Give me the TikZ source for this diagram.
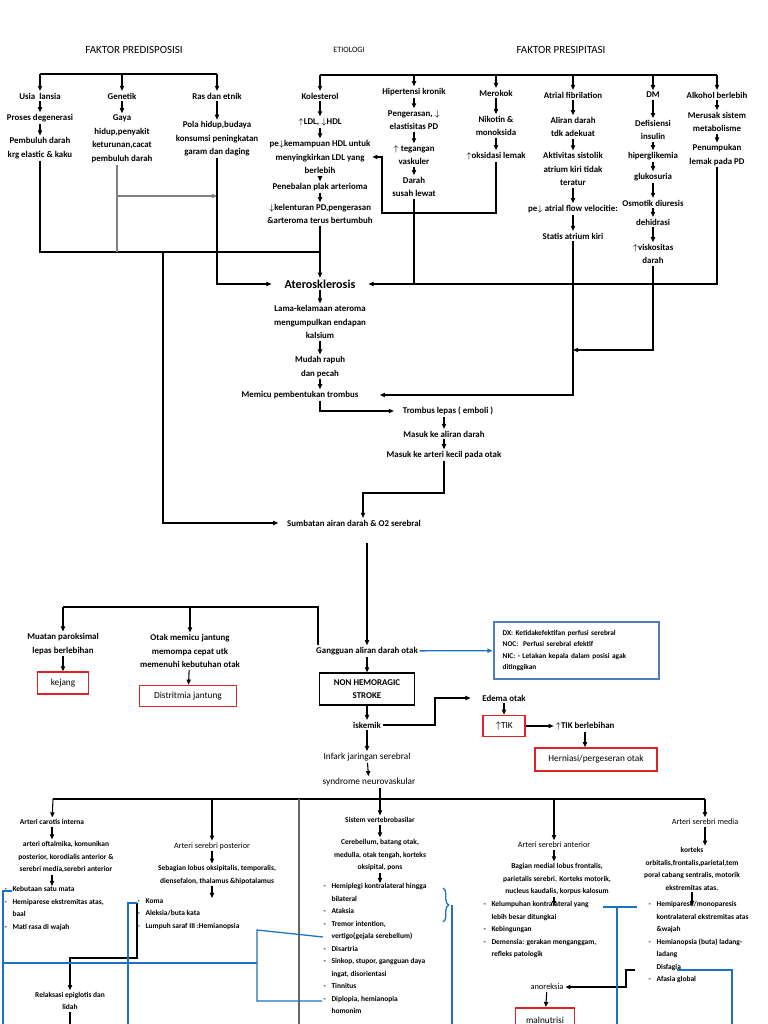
\documentclass[tikz,border=0pt]{standalone}
\usepackage{fontspec}
\setmainfont{Carlito}
\usepackage{xcolor}
\usepackage{tikz}
\usetikzlibrary{arrows.meta, positioning, calc, decorations.pathreplacing}
\definecolor{boxred}{RGB}{222, 34, 40}
\definecolor{lineblue}{RGB}{30, 112, 192}
\definecolor{boxblue}{RGB}{79, 126, 186}
\newcommand{\upar}{$\uparrow$}
\newcommand{\dnar}{$\downarrow$}
\newcommand{\lidash}{\makebox[5.7pt][l]{-}}
\newcommand{\liskip}{\hspace*{5.7pt}}

\begin{document}
\begin{tikzpicture}[x=0.025cm, y=-0.025cm, line width=0.75pt,
  every node/.style={align=center, inner sep=1pt, font=\fontsize{6.3}{9.6}\selectfont\bfseries},
  head/.style={font=\fontsize{7.8}{9}\selectfont},
  lite/.style={font=\fontsize{6.6}{9}\selectfont},
  art/.style={font=\fontsize{5.8}{8}\selectfont},
  sm/.style={font=\fontsize{5.3}{8.9}\selectfont\bfseries},
  lst/.style={sm, anchor=north west, align=left, inner sep=0pt},
  redbox/.style={draw=boxred, line width=1.1pt, font=\fontsize{6.6}{8}\selectfont},
  arr/.style={-{Triangle[length=3.6pt, width=3pt]}},
  link/.style={draw=lineblue, line width=0.9pt}]
  \useasboundingbox (0,0) rectangle (768,1024);

  \node[head] (predis) at (134,50) {FAKTOR PREDISPOSISI};
  \node[head, font=\fontsize{5.8}{7}\selectfont] (etio) at (349,50) {ETIOLOGI};
  \node[head] (presip) at (561,50) {FAKTOR PRESIPITASI};

  \node (usia) at (40,96) {Usia\ \ lansia};
  \node (proses) at (40,118) {Proses degenerasi};
  \node (pemb) at (40,148) {Pembuluh darah\\krg elastic \& kaku};
  \node (genetik) at (122,96) {Genetik};
  \node (gaya) at (122,139) {Gaya\\hidup,penyakit\\keturunan,cacat\\pembuluh darah};
  \node (ras) at (217,96) {Ras dan etnik};
  \node (pola) at (217,139) {Pola hidup,budaya\\konsumsi peningkatan\\garam dan daging};

  \node (kol) at (320,96) {Kolesterol};
  \node (ldl) at (320,122) {\upar LDL, \dnar HDL};
  \node (hdl) at (320,157) {pe\dnar kemampuan HDL untuk\\menyingkirkan LDL yang\\berlebih};
  \node (plak) at (320,187) {Penebalan plak arterioma};
  \node (kelen) at (320,214) {\dnar kelenturan PD,pengerasan\\\&arteroma terus bertumbuh};
  \node (hip) at (414,92) {Hipertensi kronik};
  \node (peng) at (414,120) {Pengerasan, \dnar\\elastisitas PD};
  \node (teg) at (414,155) {\upar\ tegangan\\vaskuler};
  \node (susah) at (414,187) {Darah\\susah lewat};
  \node (rokok) at (496,93) {Merokok};
  \node (niko) at (496,126) {Nikotin \&\\monoksida};
  \node (oksi) at (496,156) {\upar oksidasi lemak};
  \node (af) at (573,95) {Atrial fibrilation};
  \node (aliran) at (573,127) {Aliran darah\\tdk adekuat};
  \node (aktiv) at (573,169) {Aktivitas sistolik\\atrium kiri tidak\\teratur};
  \node (velo) at (573,209) {pe\dnar\ atrial flow velocitie:};
  \node (statis) at (573,236) {Statis atrium kiri};
  \node (dm) at (653,95) {DM};
  \node (defis) at (653,130) {Defisiensi\\insulin};
  \node (hiper) at (653,156) {hiperglikemia};
  \node (gluko) at (653,177) {glukosuria};
  \node (osmo) at (653,203) {Osmotik diuresis};
  \node (dehid) at (653,222) {dehidrasi};
  \node (visko) at (653,254) {\upar viskositas\\darah};
  \node (alko) at (717,95) {Alkohol berlebih};
  \node (rusak) at (717,122) {Merusak sistem\\metabolisme};
  \node (tumpuk) at (717,155) {Penumpukan\\lemak pada PD};

  \coordinate (predL) at (40,74); \coordinate (predR) at (217,74);
  \coordinate (presL) at (320,75); \coordinate (presR) at (717,75);
  \draw (predL) -- (predR);
  \draw (presL) -- (presR);
  \foreach \n in {usia,genetik,ras} \draw[arr] (predL -| \n) -- (\n);
  \foreach \n in {kol,hip,rokok,af,dm,alko} \draw[arr] (presL -| \n) -- (\n);
  \foreach \a/\b in {usia/proses, proses/pemb, genetik/gaya, ras/pola, kol/ldl, ldl/hdl, hdl/plak, plak/kelen,
    hip/peng, peng/teg, teg/susah, rokok/niko, niko/oksi, af/aliran, aliran/aktiv, aktiv/velo, velo/statis,
    dm/defis, defis/hiper, hiper/gluko, gluko/osmo, osmo/dehid, dehid/visko, alko/rusak, rusak/tumpuk}
    \draw[arr] (\a) -- (\b);

  \node[font=\fontsize{8.6}{10}\selectfont\bfseries, inner xsep=9pt] (ater) at (320,284) {Aterosklerosis};
  \node (lama) at (320,322) {Lama-kelamaan ateroma\\mengumpulkan endapan\\kalsium};
  \node (mudah) at (320,367) {Mudah rapuh\\dan pecah};
  \node[inner xsep=15pt] (memicu) at (300,395) {Memicu pembentukan trombus};
  \node[inner xsep=6pt] (trom) at (448,411) {Trombus lepas ( emboli )};
  \node (masuk1) at (444,434) {Masuk ke aliran darah};
  \node (masuk2) at (444,455) {Masuk ke arteri kecil pada otak};
  \node[inner xsep=6pt] (sumb) at (354,523) {Sumbatan airan darah \& O2 serebral};

  \coordinate (hub) at (320,252);
  \coordinate (leftv) at (163,252);
  \coordinate (genx) at (117,196);
  \coordinate (rokj) at (382,213);
  \coordinate (fj) at (573,350);
  \coordinate (sj) at (363,493);
  \draw (pemb) |- (hub);
  \draw (kelen) -- (hub);
  \draw[arr] (hub) -- (ater);
  \draw[gray] (gaya.south -| genx) -- (genx |- hub);
  \draw[arr, gray] (genx) -- (genx -| pola);
  \draw[arr] (pola) |- (ater);
  \draw[arr] (tumpuk) |- (ater);
  \draw (susah) -- (susah |- ater);
  \draw[arr] (oksi) |- (rokj) |- (hdl.east);
  \draw[arr] (statis) |- (memicu);
  \draw[arr] (visko) |- (fj);
  \draw[arr] (leftv) |- (sumb);
  \draw[arr] (ater) -- (lama);
  \draw[arr] (lama) -- (mudah);
  \draw[arr] (mudah) -- (mudah |- memicu.north);
  \draw[arr] (memicu.south -| mudah) |- (trom);
  \draw[arr] (trom.south -| masuk1) -- (masuk1);
  \draw[arr] (masuk1) -- (masuk2);
  \draw[arr] (masuk2) |- (sj) -- (sj |- sumb.north);

  \node (gang) at (367,651) {Gangguan aliran darah otak};
  \node (muatan) at (63,644) {Muatan paroksimal\\lepas berlebihan};
  \node[redbox, minimum width=36pt, minimum height=15.5pt] (kejang) at (63,683) {kejang};
  \node (otak) at (190,651) {Otak memicu jantung\\memompa cepat utk\\memenuhi kebutuhan otak};
  \node[redbox, minimum width=69pt, minimum height=15pt] (distr) at (188,696) {Distritmia jantung};
  \node[draw=boxblue, line width=1.4pt, minimum width=118pt, minimum height=40.5pt, inner xsep=6pt,
    text width=105pt, align=left, font=\fontsize{5.2}{8}\selectfont\bfseries] (dx) at (576.5,650.5)
    {DX: Ketidakefektifan perfusi serebral\\NOC:\ \ Perfusi serebral efektif\\NIC: - Letakan kepala dalam posisi agak\\ditinggikan};
  \node[draw, line width=0.8pt, minimum width=67.5pt, minimum height=22.8pt] (nhs) at (367,689) {NON HEMORAGIC\\STROKE};
  \node (isk) at (367,725) {iskemik};
  \node[inner xsep=8pt] (edema) at (504,698) {Edema otak};
  \node[redbox, minimum width=30pt, minimum height=15pt] (tik) at (504,726) {\upar TIK};
  \node (tikb) at (585,726) {\upar TIK berlebihan};
  \node[redbox, minimum width=87pt, minimum height=16.4pt] (hern) at (596,759.5) {Herniasi/pergeseran otak};
  \node[lite] (infark) at (367,757) {Infark jaringan serebral};
  \node[lite] (synd) at (369,782) {syndrome neurovaskular};

  \coordinate (gbL) at (63,607); \coordinate (gbR) at (318,607);
  \coordinate (ie) at (435,698);
  \draw[arr] ($(sumb.south -| gang)+(0,15)$) -- (gang);
  \draw (gang.north -| gbR) -- (gbR) -- (gbL);
  \draw[arr] (gbL) -- (muatan);
  \draw[arr] (gbL -| otak) -- (otak);
  \draw[arr] (muatan) -- (kejang);
  \draw[arr] (otak) -- (distr);
  \draw[arr, draw=lineblue, line width=0.9pt] (gang) -- (dx);
  \draw[arr] (gang) -- (nhs);
  \draw[arr] (nhs) -- (isk);
  \draw[arr] (isk) -| (ie) -- (edema);
  \draw[arr] (edema) -- (tik);
  \draw[arr] (tik) -- (tikb);
  \draw[arr] (tikb) -- (tikb |- hern.north);
  \draw[arr] (isk) -- (infark);
  \draw[arr] (infark) -- (synd);

  \node[sm] (car) at (52,822) {Arteri carotis interna};
  \node[sm] (oft) at (66,857) {arteri oftalmika, komunikan\\posterior, korodialis anterior \&\\serebri media,serebri anterior};
  \node[lst] (carl) at (4,886) {\lidash Kebutaan satu mata\\\lidash Hemiparese ekstremitas atas,\\\liskip baal\\\lidash Mati rasa di wajah};
  \node[art] (post) at (212,846) {Arteri serebri posterior};
  \node[sm] (postd) at (217,875) {Sebagian lobus oksipitalis, temporalis,\\diensefalon, thalamus \&hipotalamus};
  \node[lst] (postl) at (137,898) {\lidash Koma\\\lidash Aleksia/buta kata\\\lidash Lumpuh saraf III :Hemianopsia};
  \node[sm] (relak) at (70,1001) {Relaksasi epiglotis dan\\lidah};
  \node[sm] (vert) at (380,820) {Sistem vertebrobasilar};
  \node[sm] (vertd) at (380,855) {Cerebellum, batang otak,\\medulla, otak tengah, korteks\\oksipital, pons};
  \node[lst] (vertl) at (323,883) {\lidash Hemiplegi kontralateral hingga\\\liskip bilateral\\\lidash Ataksia\\\lidash Tremor intention,\\\liskip vertigo(gejala serebellum)\\\lidash Disartria\\\lidash Sinkop, stupor, gangguan daya\\\liskip ingat, disorientasi\\\lidash Tinnitus\\\lidash Diplopia, hemianopia\\\liskip homonim};
  \node[art] (ant) at (554,845) {Arteri serebri anterior};
  \node[sm] (antd) at (557,879) {Bagian medial lobus frontalis,\\parietalis serebri. Korteks motorik,\\nucleus kaudalis, korpus kalosum};
  \node[lst] (antl) at (483,901) {\lidash Kelumpuhan kontralateral yang\\\liskip lebih besar ditungkai\\\lidash Kebingungan\\\lidash Demensia: gerakan menganggam,\\\liskip refleks patologik};
  \node[art] (media) at (705,822) {Arteri serebri media};
  \node[sm] (medd) at (692,869) {korteks\\orbitalis,frontalis,parietal,tem\\poral cabang sentralis, motorik\\ekstremitas atas.};
  \node[lst] (medl) at (648,901) {\lidash Hemiparese/monoparesis\\\liskip kontralateral ekstremitas atas\\\liskip \&wajah\\\lidash Hemianopsia (buta) ladang-\\\liskip ladang\\\liskip Disfagia\\\lidash Afasia global};
  \node[sm, font=\fontsize{6}{8}\selectfont] (anor) at (547,987) {anoreksia};
  \node[redbox, minimum width=42pt, minimum height=17.8pt, anchor=north] (mal) at (545,1007) {malnutrisi};

  \coordinate (sbL) at (53,799); \coordinate (sbR) at (705,799);
  \coordinate (midv) at (299,799); \coordinate (midvb) at (299,1030);
  \coordinate (komt) at (137,903); \coordinate (komb) at (137,958);
  \coordinate (relend) at (70,1030);
  \coordinate (dfa) at (635,970); \coordinate (dfb) at (626,970);
  \draw (sbL) -- (sbR);
  \draw[gray!80!black] (midv) -- (midvb);
  \draw[arr] (synd.south -| vert) -- (vert);
  \draw[arr] (sbL) -- (car);
  \draw[arr] (car) -- (car |- oft.north);
  \draw[arr] (oft.south -| car) -- (carl.north -| car);
  \draw[arr] (sbL -| post) -- (post);
  \draw[arr] (post) -- (post |- postd.north);
  \draw[arr] (postd.south -| post) -- (postl.north -| post);
  \draw[arr] (komt) -- (komb) -| (relak);
  \draw[arr] (relak) -- (relend);
  \draw[arr] (vert) -- (vertd);
  \draw[arr] (vertd) -- (vertd |- vertl.north);
  \draw[arr] (sbL -| ant) -- (ant);
  \draw[arr] (ant) -- (ant |- antd.north);
  \draw[arr] (antd.south -| ant) -- ($(antl.north -| ant)+(0,5)$);
  \draw[arr] (sbR) -- (media);
  \draw[arr] (media) -- (media |- medd.north);
  \draw[arr] (medd) -- ($(medl.north -| medd)+(0,5)$);
  \draw[arr] (dfa) -- (dfb) |- (anor);
  \draw[arr] (anor) -- (mal);

  \coordinate (bA) at (12,891); \coordinate (bB) at (3,1030);
  \coordinate (bC) at (3,963); \coordinate (bD) at (257,963);
  \coordinate (bF) at (128,1030);
  \coordinate (bG) at (323,937); \coordinate (bH) at (257,930);
  \coordinate (bI) at (257,1001); \coordinate (bJ) at (322,1001);
  \coordinate (brT) at (443,888); \coordinate (brB) at (443,922);
  \coordinate (brM) at (452,905); \coordinate (brE) at (452,1030);
  \coordinate (bK) at (603,907); \coordinate (bL) at (637,907);
  \coordinate (bM) at (617,907); \coordinate (bN) at (617,1030);
  \coordinate (bO) at (677,970); \coordinate (bP) at (732,1030);
  \draw[link] (bA) -| (bB);
  \draw[link] (bC) -- (bD);
  \draw[link] (komt) -| (bF);
  \draw[link] (bG) -- (bH) -- (bI) -- (bJ);
  \draw[link, decorate, decoration={brace, amplitude=4pt}] (brT) -- (brB);
  \draw[link] (brM) -- (brE);
  \draw[link] (bK) -- (bL);
  \draw[link] (bM) -- (bN);
  \draw[link] (bO) -| (bP);
\end{tikzpicture}
\end{document}
